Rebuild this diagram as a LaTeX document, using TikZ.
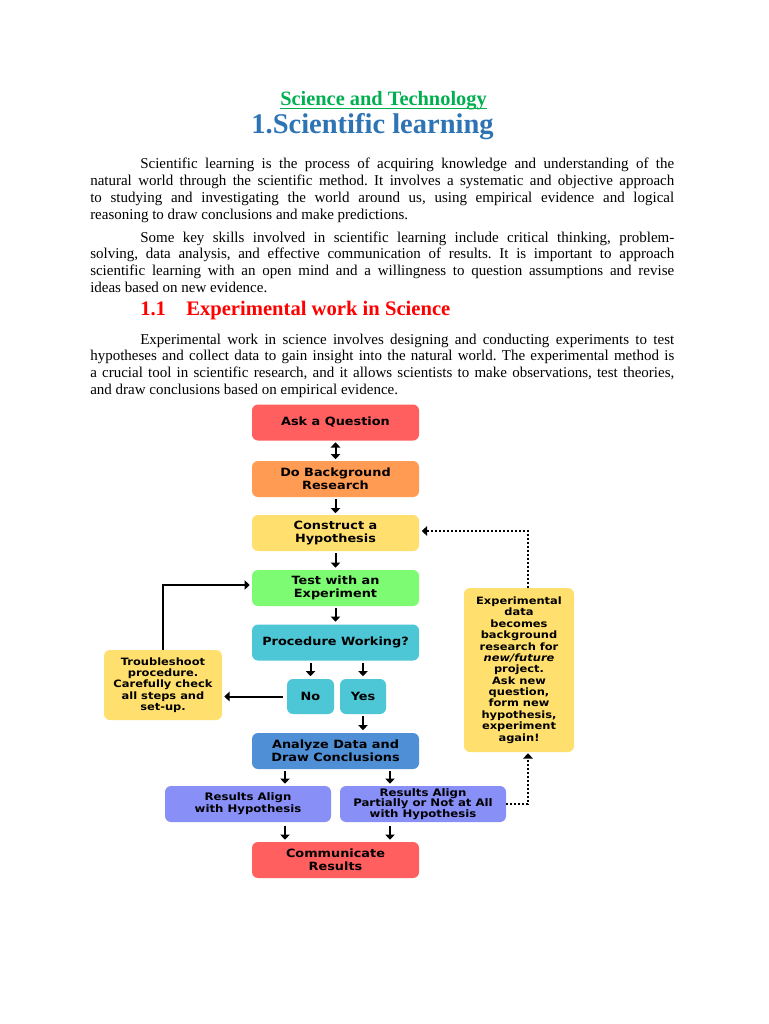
\documentclass[tikz,border=0pt]{standalone}
\usepackage{fontspec}
\setmainfont{Liberation Serif}
\newfontfamily\flowfont[FakeStretch=1.13]{DejaVu Sans}
\usetikzlibrary{arrows.meta}
\definecolor{cRed}{HTML}{FF5F5F}
\definecolor{cOrange}{HTML}{FF9B52}
\definecolor{cYellow}{HTML}{FFE06E}
\definecolor{cGreen}{HTML}{7DFB72}
\definecolor{cCyan}{HTML}{4DC6D6}
\definecolor{cBlue}{HTML}{4F8FD6}
\definecolor{cPeri}{HTML}{8890F8}
\definecolor{tGreen}{HTML}{00B050}
\definecolor{tBlue}{HTML}{2E74B5}
\hyphenpenalty=10000
\tolerance=10000
\frenchspacing
\begin{document}
\begin{tikzpicture}[x=0.8pt,y=-0.8pt,
  para/.style={anchor=base west, text width=467.2pt, inner sep=0pt, align=justify,
    font=\fontsize{12}{13.4}\selectfont\frenchspacing},
  fbox/.style={rounded corners=4.8pt, inner sep=0pt, align=center, text=black,
    font=\flowfont\bfseries\fontsize{9.1}{10.4}\selectfont},
  mainbox/.style={fbox, minimum width=133.6pt, minimum height=28.8pt},
  resbox/.style={fbox, fill=cPeri, minimum width=132.8pt, minimum height=28.8pt,
    font=\flowfont\bfseries\fontsize{8.3}{8.5}\selectfont},
  sidebox/.style={fbox, fill=cYellow, font=\flowfont\bfseries\fontsize{8.1}{9.1}\selectfont},
  tip/.tip={Triangle[width=7.5pt,length=4.2pt]},
  arr/.style={-tip, line width=1.6pt, black},
  darr/.style={tip-tip, line width=1.6pt, black},
  dotarr/.style={-tip, line width=1.6pt, black, dash pattern=on 1.6pt off 1.6pt}
]
\useasboundingbox (0,0) rectangle (768,1024);
\fill[white] (0,0) rectangle (768,1024);

% headings
\node[anchor=base, inner sep=0pt, font=\fontsize{16.3}{18}\selectfont\bfseries, text=tGreen] (sat) at (383.5,106) {Science and Technology};
\draw[tGreen, line width=0.9pt] ([yshift=-1.8pt]sat.base west) -- ([yshift=-1.8pt]sat.base east);
\node[anchor=base, inner sep=0pt, font=\fontsize{22.8}{24}\selectfont\bfseries, text=tBlue] (title) at (372.5,134) {1.Scientific learning};

\node[para] (p1) at (90,169) {\hspace*{40pt}Scientific learning is the process of acquiring knowledge and understanding of the\linebreak
natural world through the scientific method. It involves a systematic and objective approach\linebreak
to studying and investigating the world around us, using empirical evidence and logical\linebreak
reasoning to draw conclusions and make predictions.};

\node[para] (p2) at (90,242) {\hspace*{40pt}Some key skills involved in scientific learning include critical thinking, problem-\linebreak
solving, data analysis, and effective communication of results. It is important to approach\linebreak
scientific learning with an open mind and a willingness to question assumptions and revise\linebreak
ideas based on new evidence.};

\node[anchor=base west, inner sep=0pt, font=\fontsize{16.5}{18}\selectfont\bfseries, text=red] (h11) at (140,315) {1.1};
\node[anchor=base west, inner sep=0pt, font=\fontsize{16.5}{18}\selectfont\bfseries, text=red] (h11t) at (186,315) {Experimental work in Science};

\node[para] (p3) at (90,344) {\hspace*{40pt}Experimental work in science involves designing and conducting experiments to test\linebreak
hypotheses and collect data to gain insight into the natural world. The experimental method is\linebreak
a crucial tool in scientific research, and it allows scientists to make observations, test theories,\linebreak
and draw conclusions based on empirical evidence.};

% flowchart
\node[mainbox, fill=cRed] (ask) at (335.5,422.5) {Ask a Question};
\node[mainbox, fill=cOrange] (bg) at (335.5,479) {Do Background\\Research};
\node[mainbox, fill=cYellow] (hyp) at (335.5,533) {Construct a\\Hypothesis};
\node[mainbox, fill=cGreen] (test) at (335.5,588) {Test with an\\Experiment};
\node[mainbox, fill=cCyan] (proc) at (335.5,642.5) {Procedure Working?};
\node[fbox, fill=cCyan, minimum width=37.6pt, minimum height=28pt] (no) at (310.5,696.5) {No};
\node[fbox, fill=cCyan, minimum width=36.8pt, minimum height=28pt] (yes) at (363,696.5) {Yes};
\node[sidebox, minimum width=94.4pt, minimum height=56pt] (trouble) at (163,685) {Troubleshoot\\procedure.\\Carefully check\\all steps and\\set-up.};
\node[mainbox, fill=cBlue] (analyze) at (335.5,751) {Analyze Data and\\Draw Conclusions};
\node[resbox, font=\flowfont\bfseries\fontsize{8.3}{9.6}\selectfont] (res1) at (248,804) {Results Align\\with Hypothesis};
\node[resbox] (res2) at (423,804) {Results Align\\Partially or Not at All\\with Hypothesis};
\node[mainbox, fill=cRed] (comm) at (335.5,860) {Communicate\\Results};
\node[sidebox, minimum width=88pt, minimum height=131.2pt] (exp) at (519,670) {Experimental\\data\\becomes\\background\\research for\\{\itshape new/future}\\project.\\Ask new\\question,\\form new\\hypothesis,\\experiment\\again!};

\coordinate (cL) at (285,0);
\coordinate (cR) at (390,0);
\coordinate (dx) at (528,0);

\draw[darr, shorten <=1.2pt, shorten >=1.2pt] (ask) -- (bg);
\draw[arr, shorten <=1.2pt, shorten >=1.2pt] (bg) -- (hyp);
\draw[arr, shorten <=1.6pt, shorten >=1.6pt] (hyp) -- (test);
\draw[arr, shorten <=1.6pt, shorten >=2pt] (test) -- (proc);
\draw[arr, shorten <=1.6pt, shorten >=2pt] (proc.south -| no) -- (no.north);
\draw[arr, shorten <=1.6pt, shorten >=2pt] (proc.south -| yes) -- (yes.north);
\draw[arr, shorten <=3pt, shorten >=1.6pt] (no.west) -- (no.west -| trouble.east);
\draw[arr, shorten >=1.6pt] (trouble.north) |- ([yshift=2.4pt]test.west);
\draw[arr, shorten <=1.6pt, shorten >=2pt] (yes.south) -- (yes.south |- analyze.north);
\draw[arr, shorten <=1.6pt, shorten >=1.6pt] (analyze.south -| cL) -- (res1.north -| cL);
\draw[arr, shorten <=1.6pt, shorten >=1.6pt] (analyze.south -| cR) -- (res2.north -| cR);
\draw[arr, shorten <=3pt, shorten >=1.6pt] (res1.south -| cL) -- (comm.north -| cL);
\draw[arr, shorten <=3pt, shorten >=1.6pt] (res2.south -| cR) -- (comm.north -| cR);
\draw[dotarr, shorten >=0.8pt] (res2.east) -| (exp.south -| dx);
\draw[dotarr, shorten >=2pt] (exp.north -| dx) |- ([yshift=1.6pt]hyp.east);
\end{tikzpicture}
\end{document}
